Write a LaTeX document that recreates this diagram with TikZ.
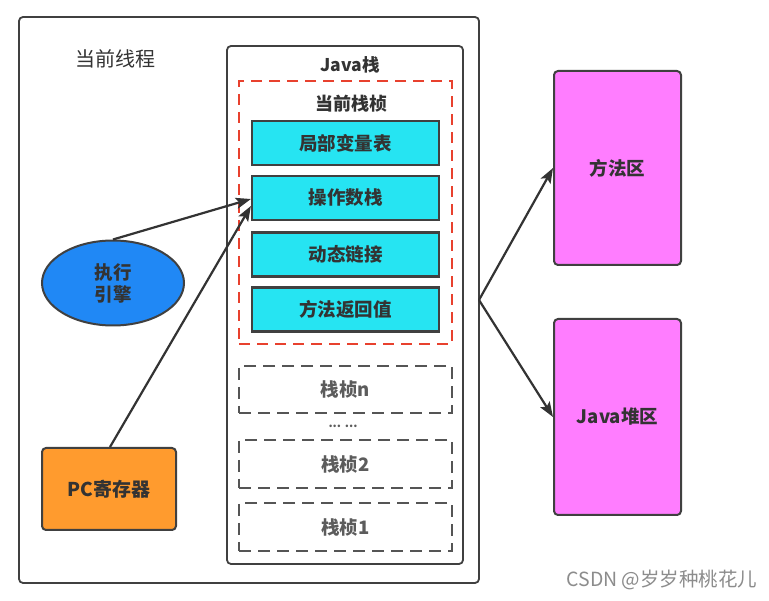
\documentclass[tikz,border=0pt]{standalone}
\usepackage{fontspec}
\setmainfont{Noto Sans CJK SC}
\usetikzlibrary{arrows.meta,shapes.geometric}
\definecolor{txt}{HTML}{333333}
\definecolor{edge}{HTML}{404040}
\definecolor{cyanfill}{HTML}{26E4F2}
\definecolor{bluefill}{HTML}{2088F5}
\definecolor{orangefill}{HTML}{FF9B2E}
\definecolor{magfill}{HTML}{FF7DFF}
\definecolor{reddash}{HTML}{E8412E}
\definecolor{graydash}{HTML}{555555}
\tikzset{
  frame/.style={draw=edge, line width=1.8pt, rounded corners=4pt, fill=white},
  cyanbox/.style={draw=edge, line width=2.2pt, fill=cyanfill, minimum width=187pt, minimum height=44pt, font=\fontsize{18.5}{20}\selectfont\bfseries, text=txt},
  framebox/.style={draw=graydash, line width=2.2pt, dash pattern=on 12pt off 7pt, minimum width=213pt, minimum height=47pt, font=\fontsize{18.5}{20}\selectfont\bfseries, text=txt!80},
  magbox/.style={draw=edge, line width=2pt, rounded corners=4pt, fill=magfill, minimum width=127pt, font=\fontsize{18.5}{20}\selectfont\bfseries, text=txt},
  lbl/.style={font=\fontsize{17}{19}\selectfont, text=txt},
  conn/.style={draw=txt, line width=2.2pt, -{Stealth[length=15pt,width=11pt,inset=3pt]}},
}
\begin{document}
\begin{tikzpicture}[x=1pt,y=-1pt]
\useasboundingbox (0,0) rectangle (769,601);
\fill[white] (0,0) rectangle (769,601);
% outer thread box
\node[frame, minimum width=460pt, minimum height=566pt] (thread) at (249,300) {};
\node[lbl, font=\fontsize{20}{22}\selectfont] (threadlbl) at (115,59) {当前线程};
% java stack
\node[frame, minimum width=236pt, minimum height=518pt] (jstack) at (345,305) {};
\node[lbl, font=\fontsize{17.5}{19}\selectfont\bfseries] (jlbl) at (350,65) {Java栈};
% current frame (red dashed)
\node[draw=reddash, line width=2pt, dash pattern=on 11pt off 7pt, minimum width=213pt, minimum height=263pt] (cur) at (345.5,212.5) {};
\node[lbl, font=\fontsize{18}{20}\selectfont\bfseries] (curlbl) at (351,104) {当前栈桢};
\node[cyanbox] (lv) at (345.5,143) {局部变量表};
\node[cyanbox] (op) at (345.5,198) {操作数栈};
\node[cyanbox] (dl) at (345.5,254.5) {动态链接};
\node[cyanbox] (rv) at (345.5,309.5) {方法返回值};
% other frames
\node[framebox] (fn) at (345.5,389.5) {栈桢n};
\node[lbl, font=\fontsize{12}{13}\selectfont\bfseries, text=txt!80] (dots) at (343,426) {... ...};
\node[framebox, minimum height=48pt] (f2) at (345.5,464) {栈桢2};
\node[framebox, minimum height=48pt] (f1) at (345.5,527) {栈桢1};
% engine and pc
\node[ellipse, draw=edge, line width=2pt, fill=bluefill, minimum width=142pt, minimum height=85pt, align=center, font=\fontsize{18.5}{22}\selectfont\bfseries, text=txt] (eng) at (113,283) {执行\\引擎};
\node[draw=edge, line width=2pt, rounded corners=4pt, fill=orangefill, minimum width=134pt, minimum height=82pt, font=\fontsize{19}{21}\selectfont\bfseries, text=txt] (pc) at (109,489) {PC寄存器};
\draw[conn] (eng.north) -- ([yshift=-1pt]op.west);
\draw[conn] ([xshift=1pt]pc.north) -- ([yshift=-8pt]op.west);
% right side
\node[magbox, minimum height=194pt] (ma) at (617.5,168) {方法区};
\node[magbox, minimum height=196pt] (heap) at (617.5,417) {Java堆区};
\coordinate (fork) at (479,300);
\draw[conn] (fork) -- (ma.west);
\draw[conn] (fork) -- (heap.west);
% watermark
\node[font=\fontsize{19.5}{21}\selectfont, text=black!45] (wm) at (662,580) {CSDN @岁岁种桃花儿};
\end{tikzpicture}
\end{document}
